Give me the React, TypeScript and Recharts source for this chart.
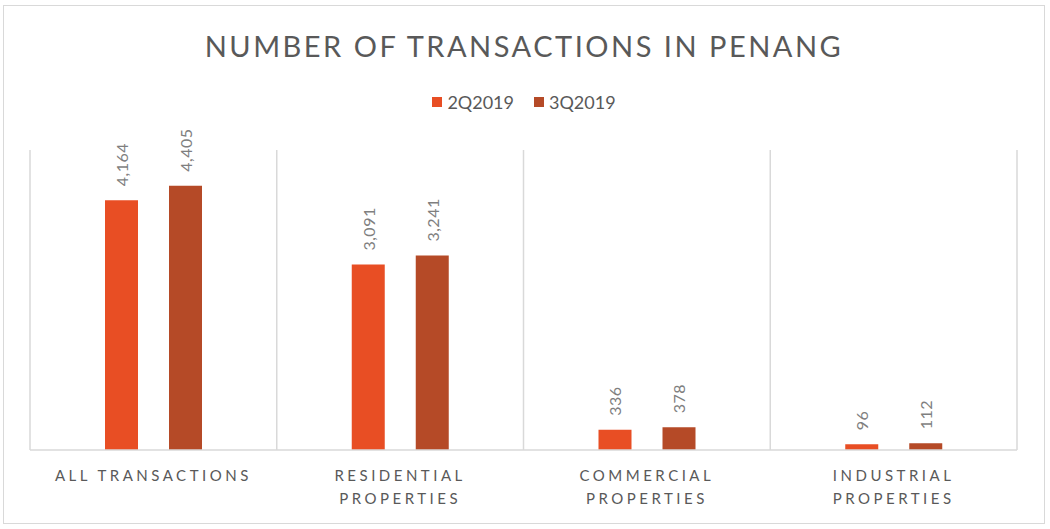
import React from "react";
import { BarChart, Bar, XAxis, YAxis, CartesianGrid, LabelList } from "recharts";

const categories = ["ALL TRANSACTIONS", "RESIDENTIAL\nPROPERTIES", "COMMERCIAL\nPROPERTIES", "INDUSTRIAL\nPROPERTIES"];
const q2_2019 = [4164, 3091, 336, 96];
const q3_2019 = [4405, 3241, 378, 112];
const seriesNames = ["2Q2019", "3Q2019"];
const colors = ["#E84E24", "#B54A27"];

const data = categories.map((c, i) => ({ name: c, a: q2_2019[i], b: q3_2019[i] }));

const FONT = "Lato, 'Open Sans', sans-serif";

const fmt = (v: number) => v.toLocaleString("en-US");

const ValueLabel = (props: any) => {
  const { x, y, width, value } = props;
  const cx = x + width / 2;
  const ty = y - 14;
  return (
    <text
      x={cx}
      y={ty}
      transform={`rotate(-90 ${cx} ${ty})`}
      textAnchor="start"
      dominantBaseline="central"
      fontSize={16}
      fontFamily={FONT}
      fill="#7F7F7F"
      letterSpacing={0.5}
    >
      {fmt(value)}
    </text>
  );
};

const CatTick = (props: any) => {
  const { x, y, payload } = props;
  const lines = String(payload.value).split("\n");
  return (
    <g>
      {lines.map((l: string, i: number) => (
        <text
          key={i}
          x={x}
          y={y + 23 + i * 23}
          textAnchor="middle"
          fontSize={15}
          fontFamily={FONT}
          fill="#595959"
          letterSpacing={3.5}
        >
          {l}
        </text>
      ))}
    </g>
  );
};

export default function App() {
  return (
    <div
      style={{
        position: "absolute",
        left: 3,
        top: 5,
        width: 1040,
        height: 517,
        border: "1px solid #D9D9D9",
        background: "#fff",
      }}
    >
      <div
        style={{
          position: "absolute",
          top: 22,
          left: 0,
          width: "100%",
          textAlign: "center",
          fontFamily: FONT,
          fontSize: 29,
          letterSpacing: 2.5,
          color: "#595959",
        }}
      >
        NUMBER OF TRANSACTIONS IN PENANG
      </div>
      <div
        style={{
          position: "absolute",
          top: 85,
          left: 0,
          width: "100%",
          display: "flex",
          justifyContent: "center",
          gap: 20,
          fontFamily: FONT,
          fontSize: 18,
          color: "#595959",
        }}
      >
        {seriesNames.map((n, i) => (
          <div key={n} style={{ display: "flex", alignItems: "center" }}>
            <span style={{ display: "inline-block", width: 10, height: 10, background: colors[i], marginRight: 5 }} />
            <span>{n}</span>
          </div>
        ))}
      </div>
      <BarChart
        width={1040}
        height={517}
        data={data}
        margin={{ top: 144, right: 27, bottom: 13, left: 26 }}
        barSize={33}
        barGap={31}
      >
        <CartesianGrid
          horizontal={false}
          vertical={true}
          stroke="#D9D9D9"
          strokeWidth={1.5}
          verticalCoordinatesGenerator={({ offset }: any) =>
            categories.map((_, i) => offset.left + (i * offset.width) / categories.length).concat([offset.left + offset.width])
          }
        />
        <XAxis
          dataKey="name"
          tick={<CatTick />}
          tickLine={false}
          axisLine={{ stroke: "#D9D9D9", strokeWidth: 1.5 }}
          height={60}
          interval={0}
        />
        <YAxis hide domain={[0, 5000]} />
        <Bar dataKey="a" name={seriesNames[0]} fill={colors[0]} isAnimationActive={false}>
          <LabelList dataKey="a" content={<ValueLabel />} />
        </Bar>
        <Bar dataKey="b" name={seriesNames[1]} fill={colors[1]} isAnimationActive={false}>
          <LabelList dataKey="b" content={<ValueLabel />} />
        </Bar>
      </BarChart>
    </div>
  );
}
